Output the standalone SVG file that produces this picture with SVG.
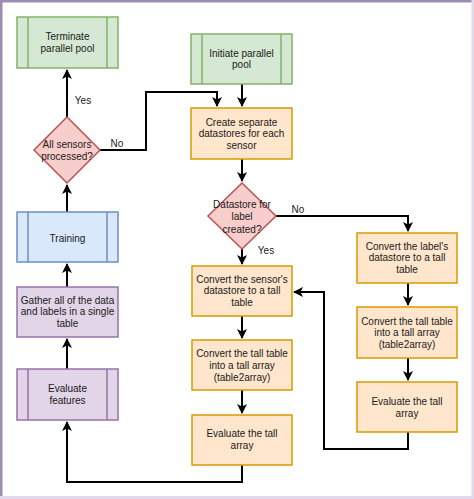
<svg xmlns="http://www.w3.org/2000/svg" width="474" height="499" viewBox="0 0 474 499">
<style>
text{font-family:"Liberation Sans",Arial,sans-serif;font-size:10px;fill:#1a1a1a;text-anchor:middle}
.g{fill:#d5e8d4;stroke:#82b366;stroke-width:1.5}
.b{fill:#dae8fc;stroke:#6c8ebf;stroke-width:1.5}
.p{fill:#e1d5e7;stroke:#9673a6;stroke-width:1.5}
.o{fill:#ffe6cc;stroke:#d79b00;stroke-width:1.5}
.r{fill:#f8cecc;stroke:#b85450;stroke-width:1.5}
.il{fill:none;stroke-width:1.5}
.c{fill:none;stroke:#000;stroke-width:2}
</style>
<defs>
<marker id="ah" markerUnits="userSpaceOnUse" markerWidth="12" markerHeight="12" refX="9" refY="5" orient="auto">
<path d="M0,0 L10,5 L0,10 L2.5,5 z" fill="#000"/>
</marker>
</defs>
<rect x="0" y="0" width="474" height="499" fill="#fff"/>
<rect x="0" y="0" width="474" height="2.5" fill="#9c8cb4"/>
<rect x="0" y="0" width="2.5" height="499" fill="#9c8cb4"/>
<rect x="471.5" y="0" width="2.5" height="499" fill="#e2daec"/>
<rect x="0" y="496" width="474" height="3" fill="#e2daec"/>

<g id="connectors">
<path class="c" d="M67,117 V70" marker-end="url(#ah)"/>
<path class="c" d="M100,150 H146 V92 H217 V106" marker-end="url(#ah)"/>
<path class="c" d="M242,84 V106" marker-end="url(#ah)"/>
<path class="c" d="M242,159 V181" marker-end="url(#ah)"/>
<path class="c" d="M276,216 H408 V231" marker-end="url(#ah)"/>
<path class="c" d="M242,249 V264" marker-end="url(#ah)"/>
<path class="c" d="M242,316 V338" marker-end="url(#ah)"/>
<path class="c" d="M242,390 V413" marker-end="url(#ah)"/>
<path class="c" d="M242,465 V482 H67 V422" marker-end="url(#ah)"/>
<path class="c" d="M408,283 V305" marker-end="url(#ah)"/>
<path class="c" d="M408,358 V380" marker-end="url(#ah)"/>
<path class="c" d="M408,432 V449 H324 V292 H294" marker-end="url(#ah)"/>
<path class="c" d="M67,212 V185" marker-end="url(#ah)"/>
<path class="c" d="M67,287 V264" marker-end="url(#ah)"/>
<path class="c" d="M67,369 V339" marker-end="url(#ah)"/>
<text x="83" y="103.5">Yes</text>
<text x="117" y="146.5">No</text>
<text x="298" y="212.5">No</text>
<text x="266" y="253.5">Yes</text>
</g>

<g id="terminate">
<rect class="g" x="17" y="17" width="101" height="51"/>
<path class="il" stroke="#82b366" d="M28,17 V68 M107,17 V68"/>
<text x="67.5" y="39.5">Terminate</text>
<text x="67.5" y="51.5">parallel pool</text>
</g>

<g id="initiate">
<rect class="g" x="191" y="34" width="101" height="50"/>
<path class="il" stroke="#82b366" d="M202,34 V84 M281,34 V84"/>
<text x="241.5" y="56.5">Initiate parallel</text>
<text x="241.5" y="68">pool</text>
</g>

<g id="create">
<rect class="o" x="191" y="108" width="101" height="51"/>
<text x="241.5" y="125.5">Create separate</text>
<text x="241.5" y="137">datastores for each</text>
<text x="241.5" y="149">sensor</text>
</g>

<g id="allsensors">
<path class="r" d="M67,117 L100,150 L67,183 L34,150 Z"/>
<text x="67" y="147.5">All sensors</text>
<text x="67" y="159.5">processed?</text>
</g>

<g id="datastore">
<path class="r" d="M242,183 L276,216 L242,249 L208,216 Z"/>
<text x="242" y="207.5">Datastore for</text>
<text x="242" y="220">label</text>
<text x="242" y="232.5">created?</text>
</g>

<g id="training">
<rect class="b" x="17" y="212" width="101" height="50"/>
<path class="il" stroke="#6c8ebf" d="M28,212 V262 M107,212 V262"/>
<text x="67.5" y="241.5">Training</text>
</g>

<g id="gather">
<rect class="p" x="17" y="287" width="101" height="50"/>
<text x="67.5" y="303.5">Gather all of the data</text>
<text x="67.5" y="315">and labels in a single</text>
<text x="67.5" y="327">table</text>
</g>

<g id="evalfeatures">
<rect class="p" x="17" y="369" width="101" height="51"/>
<path class="il" stroke="#9673a6" d="M28,369 V420 M107,369 V420"/>
<text x="67.5" y="391.5">Evaluate</text>
<text x="67.5" y="403.5">features</text>
</g>

<g id="sensortable">
<rect class="o" x="192" y="266" width="100" height="50"/>
<text x="242" y="282.5">Convert the sensor's</text>
<text x="242" y="294">datastore to a tall</text>
<text x="242" y="305.5">table</text>
</g>

<g id="sensorarray">
<rect class="o" x="192" y="340" width="100" height="50"/>
<text x="242" y="356.5">Convert the tall table</text>
<text x="242" y="368.5">into a tall array</text>
<text x="242" y="380.5">(table2array)</text>
</g>

<g id="sensoreval">
<rect class="o" x="192" y="415" width="100" height="50"/>
<text x="242" y="436.5">Evaluate the tall</text>
<text x="242" y="448.5">array</text>
</g>

<g id="labeltable">
<rect class="o" x="357" y="233" width="100" height="50"/>
<text x="407" y="249.5">Convert the label's</text>
<text x="407" y="261">datastore to a tall</text>
<text x="407" y="272.5">table</text>
</g>

<g id="labelarray">
<rect class="o" x="357" y="307" width="100" height="51"/>
<text x="407" y="324.5">Convert the tall table</text>
<text x="407" y="336">into a tall array</text>
<text x="407" y="347.5">(table2array)</text>
</g>

<g id="labeleval">
<rect class="o" x="357" y="382" width="100" height="50"/>
<text x="407" y="404.5">Evaluate the tall</text>
<text x="407" y="416.5">array</text>
</g>
</svg>
